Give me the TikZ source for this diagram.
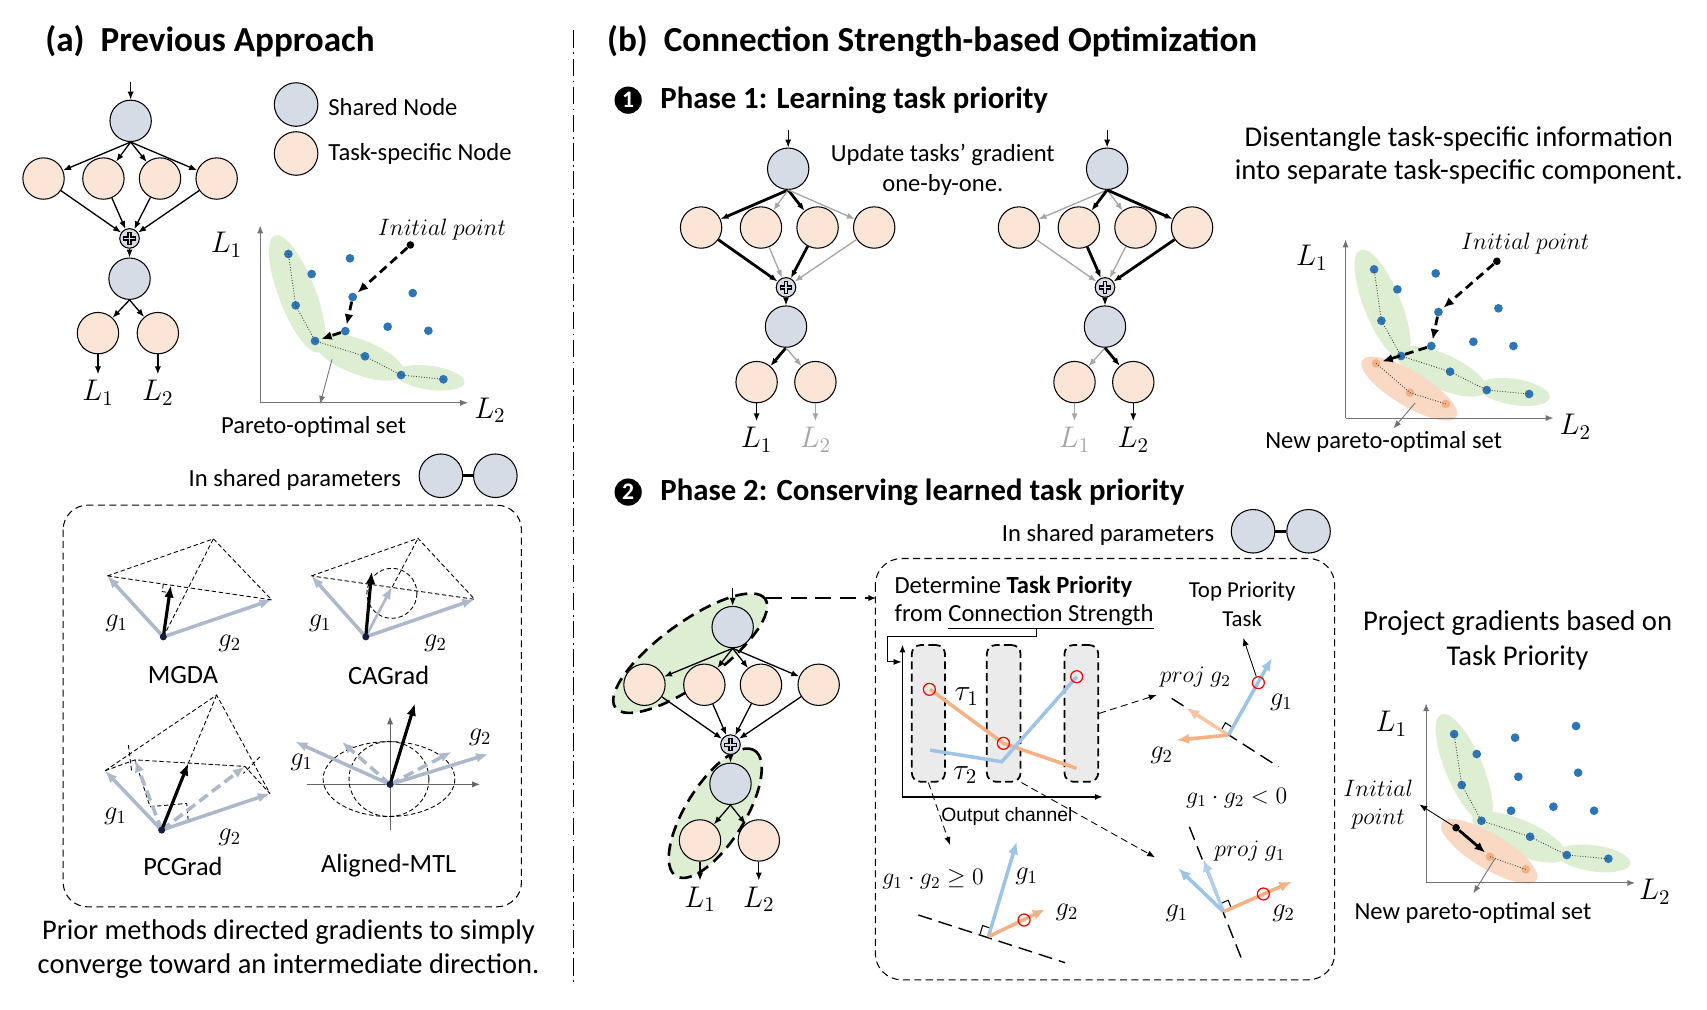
\RequirePackage{fix-cm}
\documentclass[tikz,border=0pt]{standalone}
\usepackage{amsmath}
\usepackage{amssymb}
\usepackage{fontspec}
\setmainfont{Carlito}
\newfontfamily\chanfont{Liberation Sans}
\usepackage{tikz}
\usetikzlibrary{arrows.meta}
\usetikzlibrary{shapes.geometric}
\usepackage{xcolor}

\definecolor{sharedfill}{RGB}{214,220,229}
\definecolor{taskfill}{RGB}{251,229,214}
\definecolor{dotblue}{RGB}{46,117,182}
\definecolor{setgreen}{RGB}{222,238,210}
\definecolor{setorange}{RGB}{249,216,196}
\definecolor{dotorange}{RGB}{244,177,131}
\definecolor{gradgray}{RGB}{173,185,202}
\definecolor{lineblue}{RGB}{157,195,230}
\definecolor{lineorange}{RGB}{244,177,131}
\definecolor{boxgray}{RGB}{235,235,235}
\definecolor{origincol}{RGB}{20,30,60}

\def\pxu{0.021773cm}

\tikzset{
  >={Latex[length=4.5pt,width=3.5pt]},
  shr/.style={circle, draw, line width=0.6pt, fill=sharedfill, minimum size=38*\pxu, inner sep=0pt},
  tsk/.style={circle, draw, line width=0.6pt, fill=taskfill, minimum size=38*\pxu, inner sep=0pt},
  pair/.style={circle, draw, line width=0.6pt, fill=sharedfill, minimum size=40*\pxu, inner sep=0pt},
  plusnode/.style={circle, draw, line width=0.6pt, fill=sharedfill, minimum size=18*\pxu, inner sep=0pt,
    path picture={
      \draw[line width=2.4pt] ([xshift=-3.6pt]path picture bounding box.center) -- ([xshift=3.6pt]path picture bounding box.center);
      \draw[line width=2.4pt] ([yshift=-3.6pt]path picture bounding box.center) -- ([yshift=3.6pt]path picture bounding box.center);
      \draw[line width=1pt, sharedfill] ([xshift=-3.1pt]path picture bounding box.center) -- ([xshift=3.1pt]path picture bounding box.center);
      \draw[line width=1pt, sharedfill] ([yshift=-3.1pt]path picture bounding box.center) -- ([yshift=3.1pt]path picture bounding box.center);
    }},
  lnk/.style={->, line width=0.75pt},
  hot/.style={->, line width=1.6pt},
  cold/.style={->, line width=0.75pt, black!35},
  bdot/.style={circle, fill=dotblue, inner sep=0pt, minimum size=8*\pxu},
  odot/.style={circle, fill=dotorange, inner sep=0pt, minimum size=8*\pxu},
  kdot/.style={circle, fill=black, inner sep=0pt, minimum size=7*\pxu},
  gset/.style={ellipse, fill=setgreen, inner sep=0pt},
  oset/.style={ellipse, fill=setorange, inner sep=0pt},
  front/.style={densely dotted, line width=0.5pt, black!75},
  walk/.style={-{Latex[length=6pt,width=5pt]}, line width=1.6pt, dash pattern=on 5pt off 3pt, shorten >=1pt},
  axis/.style={->, line width=0.6pt, black!55},
  mathl/.style={font=\fontsize{17}{20}\selectfont},
  gl/.style={font=\fontsize{15}{18}\selectfont},
  initl/.style={font=\fontsize{13.5}{16}\selectfont},
  grad/.style={-{Latex[length=7pt,width=5.5pt]}, line width=2pt, gradgray},
  gradd/.style={grad, dash pattern=on 6pt off 3pt},
  res/.style={-{Latex[length=7pt,width=5.5pt]}, line width=1.8pt},
  aux/.style={line width=0.5pt, dash pattern=on 2.5pt off 1.5pt},
  bgrad/.style={-{Latex[length=7pt,width=6pt]}, line width=2pt, lineblue},
  ograd/.style={-{Latex[length=7pt,width=6pt]}, line width=2pt, lineorange},
  ring/.style={circle, draw=red, line width=0.7pt, minimum size=11*\pxu, inner sep=0pt},
  plane/.style={dash pattern=on 8pt off 4pt, line width=0.8pt},
  chbox/.style={draw, fill=boxgray, dash pattern=on 4.5pt off 2.5pt, line width=1pt, rounded corners=5pt, inner sep=0pt},
  head/.style={font=\fontsize{20}{24}\selectfont\bfseries, anchor=west},
  phase/.style={font=\fontsize{17.5}{21}\selectfont\bfseries, anchor=west},
  numc/.style={circle, fill=black, text=white, inner sep=0pt, minimum size=25*\pxu, font=\fontsize{13.5}{13.5}\selectfont\bfseries},
  mname/.style={font=\fontsize{15}{18}\selectfont},
  thinarr/.style={->, line width=0.5pt},
}

\begin{document}
\begin{tikzpicture}[x=\pxu, y=-\pxu, every node/.style={font=\fontsize{14}{16.5}\selectfont}]
\useasboundingbox (0,0) rectangle (1568,927);

% ================= (a) =================
\node[head] (ha) at (36,38) {(a)\ \ Previous Approach};
\draw[dash pattern=on 10pt off 2.5pt on 1pt off 2.5pt, line width=0.6pt] (527,28) -- (527,905);

% network
\coordinate (ain) at (120,75);
\node[shr] (as1) at (120,111) {};
\node[tsk] (at1) at (40,164) {};
\node[tsk] (at2) at (95,164) {};
\node[tsk] (at3) at (147,164) {};
\node[tsk] (at4) at (199,164) {};
\node[plusnode] (ap) at (119,219) {};
\node[shr] (as2) at (119,256) {};
\node[tsk] (ao1) at (90,306) {};
\node[tsk] (ao2) at (145,306) {};
\node[mathl] (aL1) at (90,361) {$L_1$};
\node[mathl] (aL2) at (145,361) {$L_2$};
\draw[lnk] (ain) -- (as1);
\foreach \t in {at1,at2,at3,at4} {
  \draw[lnk] (as1.south) -- (\t);
  \draw[lnk] (\t) -- (ap);
}
\draw[lnk] (ap) -- (as2);
\draw[lnk] (as2.south) -- (ao1);
\draw[lnk] (as2.south) -- (ao2);
\draw[lnk] (ao1) -- (aL1);
\draw[lnk] (ao2) -- (aL2);

% legend
\node[shr, minimum size=40*\pxu] (ks) at (272,96) {};
\node[anchor=west] (kst) at (296,98) {Shared Node};
\node[tsk, minimum size=40*\pxu] (kt) at (272,141) {};
\node[anchor=west] (ktt) at (296,141) {Task-specific Node};

% pareto plot
\node[gset, rotate=-69, minimum width=115*\pxu, minimum height=34*\pxu] (age1) at (273,270) {};
\node[gset, rotate=-21, minimum width=88*\pxu, minimum height=32*\pxu] (age2) at (330,328) {};
\node[gset, rotate=-8, minimum width=64*\pxu, minimum height=22*\pxu] (age3) at (395,347) {};
\coordinate (aor) at (239,370);
\coordinate (aya) at (239,207);
\coordinate (axa) at (430,370);
\draw[axis] (aor) -- (aya);
\draw[axis] (aor) -- (axa);
\node[mathl] (aly) at (208,225) {$L_1$};
\node[mathl] (alx) at (450,377) {$L_2$};
\foreach \p [count=\i] in {(264.9,233.3),(286.3,251.7),(321.5,237.3),(271.6,280.5),(324,272.8),(379.1,269.2),(317.2,304.1),(356.1,300.1),(393.5,303.8),(289.4,313.2),(335.3,327.3),(368.4,344.5),(407.3,348.4)}
  \node[bdot] (ad\i) at \p {};
\draw[front] (ad1.center) -- (ad4.center) -- (ad10.center) -- (ad11.center) -- (ad12.center) -- (ad13.center);
\node[kdot] (ainit) at (377,225) {};
\node[initl] (ainitl) at (406,211) {$Initial\ point$};
\draw[walk] (ainit) -- (ad5);
\draw[walk] (ad5) -- (ad7);
\draw[walk] (ad7) -- (ad10);
\coordinate (apa) at (305,330);
\node (apl) at (288,392) {Pareto-optimal set};
\draw[thinarr, black!55] (apa) -- (294,371);

% shared parameters
\node[anchor=east] (ainsh) at (374,441) {In shared parameters};
\node[pair] (apr1) at (405,437) {};
\node[pair] (apr2) at (455,437) {};
\draw[line width=1.6pt] (apr1) -- (apr2);

% gradient methods
\draw[line width=0.6pt, dash pattern=on 4pt off 2.5pt, rounded corners=14pt] (58,464) rectangle (479,833);

% MGDA
\coordinate (mo) at (150,585);
\coordinate (m1) at (98.6,529);
\coordinate (m2) at (249.6,551);
\coordinate (mt) at (196,495);
\coordinate (mf) at (156.9,537.5);
\draw[aux] (m1) -- (mt) -- (m2) -- cycle;
\draw[aux] (mo) -- (mt);
\draw[aux] (150,536.5) -- (149,543.4) -- (155.9,544.4);
\draw[grad] (mo) -- (m1);
\draw[grad] (mo) -- (m2);
\draw[res] (mo) -- (mf);
\fill[origincol] (mo) circle (2pt);
\node[gl] (mg1) at (107,573) {$g_1$};
\node[gl] (mg2) at (211,591) {$g_2$};
\node[mname] (mlab) at (168,620) {MGDA};

% CAGrad
\coordinate (co) at (336,585);
\coordinate (c1) at (286,529);
\coordinate (c2) at (436,550.5);
\coordinate (ct) at (384,494.5);
\coordinate (cc) at (360,545);
\draw[aux] (c1) -- (ct) -- (c2) -- cycle;
\draw[aux] (co) -- (ct);
\draw[aux] (cc) circle [radius=23];
\draw[grad] (co) -- (c1);
\draw[grad] (co) -- (c2);
\draw[grad, line width=1.5pt] (co) -- (360,539);
\draw[res] (co) -- (341.4,525);
\fill[origincol] (co) circle (2pt);
\node[gl] (cg1) at (294,573) {$g_1$};
\node[gl] (cg2) at (400,591) {$g_2$};
\node[mname] (clab) at (357,620) {CAGrad};

% PCGrad
\coordinate (po) at (148.5,762.5);
\coordinate (p1) at (96.5,708);
\coordinate (p2) at (248,729);
\coordinate (pt) at (199,638.4);
\coordinate (pq1) at (124,698);
\coordinate (pq2) at (225,704);
\coordinate (pr) at (173,701);
\draw[aux] (p1) -- (pt) -- (p2);
\draw[aux] (p1) -- (pq1) -- (pq2) -- (p2);
\draw[aux] (pt) -- (pr);
\draw[aux] (pq1) -- (137.8,741) -- (171.5,738) -- (173,754.8);
\draw[aux] (117.9,684.4) -- (121,708.9);
\draw[aux] (238.8,695.1) -- (223.5,710.4);
\draw[grad] (po) -- (p1);
\draw[grad] (po) -- (p2);
\draw[gradd] (po) -- (pq1);
\draw[gradd] (po) -- (pq2);
\draw[res] (po) -- (pr);
\fill[origincol] (po) circle (2pt);
\node[gl] (pg1) at (106,750) {$g_1$};
\node[gl] (pg2) at (211,769) {$g_2$};
\node[mname] (plab) at (168,796) {PCGrad};

% Aligned-MTL
\coordinate (lo) at (358.3,720.5);
\draw[->, line width=0.6pt, black!60] (281.7,720.5) -- (441,720.5);
\draw[->, line width=0.6pt, black!60] (358.3,762.5) -- (358.3,658);
\draw[aux] (357.3,715.6) ellipse [x radius=60.5, y radius=34.4];
\draw[aux] (357.3,715.6) ellipse [x radius=36.7, y radius=34.4];
\draw[grad] (lo) -- (271,681.3);
\draw[grad] (lo) -- (448.6,692.6);
\draw[gradd] (lo) -- (313.9,681.3);
\draw[gradd] (lo) -- (414.9,690.5);
\draw[res] (lo) -- (381.2,646.1);
\fill[origincol] (lo) circle (2pt);
\node[gl] (lg1) at (277,700) {$g_1$};
\node[gl] (lg2) at (441,677) {$g_2$};
\node[mname] (llab) at (357,795) {Aligned-MTL};

\node[align=center, font=\fontsize{16.2}{19.2}\selectfont] (acap) at (265,872) {Prior methods directed gradients to simply\\converge toward an intermediate direction.};

% ================= (b) =================
\node[head] (hb) at (552,38) {(b)\ \ Connection Strength-based Optimization};
\node[numc] (n1) at (577,92) {1};
\node[phase] (ph1) at (601,92) {Phase 1: Learning task priority};

% phase 1, first update
\coordinate (bin) at (724,119);
\node[shr] (bs1) at (724,155) {};
\node[tsk] (bt1) at (644,209) {};
\node[tsk] (bt2) at (699,209) {};
\node[tsk] (bt3) at (751,209) {};
\node[tsk] (bt4) at (803,209) {};
\node[plusnode] (bp) at (722,264) {};
\node[shr] (bs2) at (722,300) {};
\node[tsk] (bo1) at (695,351) {};
\node[tsk] (bo2) at (749,351) {};
\node[mathl] (bL1) at (695,404) {$L_1$};
\node[mathl, black!35] (bL2) at (749,404) {$L_2$};
\draw[lnk] (bin) -- (bs1);
\draw[hot] (bs1.south) -- (bt1);
\draw[cold] (bs1.south) -- (bt2);
\draw[hot] (bs1.south) -- (bt3);
\draw[cold] (bs1.south) -- (bt4);
\draw[hot] (bt1) -- (bp);
\draw[cold] (bt2) -- (bp);
\draw[hot] (bt3) -- (bp);
\draw[cold] (bt4) -- (bp);
\draw[lnk] (bp) -- (bs2);
\draw[hot] (bs2.south) -- (bo1);
\draw[cold] (bs2.south) -- (bo2);
\draw[lnk] (bo1) -- (bL1);
\draw[cold] (bo2) -- (bL2);

\node[align=center, font=\fontsize{14}{17.4}\selectfont] (upd) at (866,156) {Update tasks’ gradient\\one-by-one.};

% phase 1, second update
\coordinate (cin) at (1017,119);
\node[shr] (cs1) at (1017,155) {};
\node[tsk] (ct1) at (936,209) {};
\node[tsk] (ct2) at (991,209) {};
\node[tsk] (ct3) at (1043,209) {};
\node[tsk] (ct4) at (1095,209) {};
\node[plusnode] (cp) at (1015,264) {};
\node[shr] (cs2) at (1015,300) {};
\node[tsk] (co1) at (987,351) {};
\node[tsk] (co2) at (1041,351) {};
\node[mathl, black!35] (cL1) at (987,404) {$L_1$};
\node[mathl] (cL2) at (1041,404) {$L_2$};
\draw[lnk] (cin) -- (cs1);
\draw[cold] (cs1.south) -- (ct1);
\draw[hot] (cs1.south) -- (ct2);
\draw[cold] (cs1.south) -- (ct3);
\draw[hot] (cs1.south) -- (ct4);
\draw[cold] (ct1) -- (cp);
\draw[hot] (ct2) -- (cp);
\draw[cold] (ct3) -- (cp);
\draw[hot] (ct4) -- (cp);
\draw[lnk] (cp) -- (cs2);
\draw[cold] (cs2.south) -- (co1);
\draw[hot] (cs2.south) -- (co2);
\draw[cold] (co1) -- (cL1);
\draw[lnk] (co2) -- (cL2);

% phase 1 plot
\node[align=center, font=\fontsize{16.3}{18.6}\selectfont] (dis) at (1340,143) {Disentangle task-specific information\\into separate task-specific component.};
\node[gset, rotate=-68, minimum width=109*\pxu, minimum height=34*\pxu] (dge1) at (1270,280) {};
\node[gset, rotate=-24, minimum width=90*\pxu, minimum height=32*\pxu] (dge2) at (1324,341) {};
\node[gset, rotate=-9, minimum width=66*\pxu, minimum height=24*\pxu] (dge3) at (1391,360) {};
\node[oset, rotate=-31, minimum width=101*\pxu, minimum height=32*\pxu] (doe) at (1294.5,357) {};
\coordinate (dor) at (1236,384);
\coordinate (dya) at (1236,220);
\coordinate (dxa) at (1427,384);
\draw[axis] (dor) -- (dya);
\draw[axis] (dor) -- (dxa);
\node[mathl] (dly) at (1205,237) {$L_1$};
\node[mathl] (dlx) at (1447,392) {$L_2$};
\foreach \p [count=\i] in {(1262.2,247.4),(1283.6,265.8),(1318.8,251.1),(1268.9,294.6),(1321.3,286.6),(1376.4,283.2),(1314.8,317.8),(1353.4,313.9),(1390.2,317.8),(1287,327),(1332,341.4),(1365.7,358.3),(1404.6,361.9)}
  \node[bdot] (dd\i) at \p {};
\foreach \p [count=\i] in {(1264,333.8),(1295.2,360.7),(1328,371.1)}
  \node[odot] (do\i) at \p {};
\draw[front] (dd1.center) -- (dd4.center) -- (dd10.center) -- (dd11.center) -- (dd12.center) -- (dd13.center);
\draw[front] (do1.center) -- (do2.center) -- (do3.center);
\node[kdot] (dinit) at (1375,240) {};
\node[initl] (dinitl) at (1401,224) {$Initial\ point$};
\draw[walk] (dinit) -- (dd5);
\draw[walk] (dd5) -- (dd7);
\draw[walk] (dd7) -- (do1);
\coordinate (dpa) at (1300,370);
\node (dpl) at (1271,406) {New pareto-optimal set};
\draw[thinarr, black!55] (dpa) -- (1280,393.5);

% phase 2
\node[numc] (n2) at (577,452) {2};
\node[phase] (ph2) at (601,452) {Phase 2: Conserving learned task priority};

\node[gset, draw, rotate=36, minimum width=170*\pxu, minimum height=56*\pxu, dash pattern=on 7pt off 4pt, line width=1.5pt] (pe1) at (634,600) {};
\node[gset, draw, rotate=58, minimum width=136*\pxu, minimum height=54*\pxu, dash pattern=on 7pt off 4pt, line width=1.5pt] (pe2) at (657,747) {};
\coordinate (qin) at (673,540);
\node[shr] (qs1) at (673,576) {};
\node[tsk] (qt1) at (592,629) {};
\node[tsk] (qt2) at (647,629) {};
\node[tsk] (qt3) at (699,629) {};
\node[tsk] (qt4) at (752,629) {};
\node[plusnode] (qp) at (671,684) {};
\node[shr] (qs2) at (671,720) {};
\node[tsk] (qo1) at (643,772) {};
\node[tsk] (qo2) at (697,772) {};
\node[mathl] (qL1) at (643,826) {$L_1$};
\node[mathl] (qL2) at (697,826) {$L_2$};
\draw[lnk] (qin) -- (qs1);
\foreach \t in {qt1,qt2,qt3,qt4} {
  \draw[lnk] (qs1.south) -- (\t);
  \draw[lnk] (\t) -- (qp);
}
\draw[lnk] (qp) -- (qs2);
\draw[lnk] (qs2.south) -- (qo1);
\draw[lnk] (qs2.south) -- (qo2);
\draw[lnk] (qo1) -- (qL1);
\draw[lnk] (qo2) -- (qL2);

\node[anchor=east] (binsh) at (1121,491) {In shared parameters};
\node[pair] (bpr1) at (1151,488) {};
\node[pair] (bpr2) at (1202,488) {};
\draw[line width=1.6pt] (bpr1) -- (bpr2);

% phase 2 box
\draw[line width=0.6pt, dash pattern=on 4pt off 2.5pt, rounded corners=15pt] (804,513) rectangle (1226,900);
\coordinate (pbw) at (805,553);
\draw[->, dash pattern=on 9pt off 5pt, line width=1.2pt] (pe1.east) -- (pe1.east -| pbw);

\node[anchor=west] (dt1) at (816,539) {Determine \textbf{Task Priority}};
\node[anchor=west] (dt2) at (816,567) {from \underline{Connection Strength}};
\draw[thinarr] (952,577) -- (952,585) -- (815,585) -- (815,608) -- (828,608);

% connection strength chart
\node[chbox, minimum width=30.5*\pxu, minimum height=125.5*\pxu] (cb1) at (852.8,655.3) {};
\node[chbox, minimum width=31*\pxu, minimum height=125.5*\pxu] (cb2) at (922,655.3) {};
\node[chbox, minimum width=31*\pxu, minimum height=125.5*\pxu] (cb3) at (993.3,655.3) {};
\draw[->, line width=0.9pt] (829,732) -- (829,592);
\draw[->, line width=0.9pt] (829,732) -- (1013,732);
\draw[lineorange, line width=2pt] (854.3,633.2) -- (921.7,682.8) -- (989,705.8);
\draw[lineblue, line width=2pt] (854.3,689) -- (920.2,699.7) -- (989,621.6);
\node[ring] (r1) at (853.7,633.2) {};
\node[ring] (r2) at (921.7,682.8) {};
\node[ring] (r3) at (989,621.6) {};
\node[mathl] (tau1) at (888,640) {$\tau_1$};
\node[mathl] (tau2) at (886.5,712) {$\tau_2$};
\node[font=\chanfont\fontsize{11}{13}\selectfont] (outch) at (925,750) {Output channel};

\coordinate (ea) at (1062.5,638.4);
\coordinate (eb) at (872.7,776.2);
\coordinate (ec) at (1061,787.5);
\draw[->, line width=0.5pt, dash pattern=on 4pt off 2.5pt] (cb3.east) -- (ea);
\draw[->, line width=0.5pt, dash pattern=on 4pt off 2.5pt] (cb1.south) -- (eb);
\draw[->, line width=0.5pt, dash pattern=on 4pt off 2.5pt] (cb2.south east) -- (ec);

% top priority projection
\node[align=center, font=\fontsize{13}{16}\selectfont] (tpt) at (1141,555) {Top Priority\\Task};
\coordinate (to) at (1128.4,675.2);
\draw[plane] (1076.3,641.5) -- (1174.3,704.3);
\draw[line width=0.6pt] (1121.7,670.9) -- (1125.6,663.9) -- (1132.3,668.2);
\draw[ograd, lineorange!75] (to) -- (1090.1,650.7);
\draw[ograd] (to) -- (1080.9,679.8);
\draw[bgrad] (to) -- (1168.2,604.7);
\node[ring] (tring) at (1155.9,627.1) {};
\coordinate (tpa) at (1142,586);
\draw[thinarr] (tring) -- (tpa);
\node[initl] (tpg2) at (1098,622) {$proj\ g_2$};
\node[gl] (tg1) at (1177,645) {$g_1$};
\node[gl] (tg2) at (1067,694) {$g_2$};
\node[initl] (tneg) at (1136,733) {$g_1\cdot g_2<0$};

% non-conflicting case
\node[initl] (tpos) at (857,808) {$g_1\cdot g_2\geq 0$};
\coordinate (uo) at (907.9,860.4);
\draw[plane] (843.6,840.5) -- (978.3,884.3);
\draw[line width=0.6pt] (900.3,857.9) -- (902.6,850.2) -- (910.2,852.7);
\draw[bgrad] (uo) -- (933.9,773.2);
\draw[ograd] (uo) -- (960,835.3);
\node[ring] (uring) at (940.7,845.1) {};
\node[gl] (ug1) at (943,805) {$g_1$};
\node[gl] (ug2) at (980,838) {$g_2$};

% conflicting case
\coordinate (vo) at (1123.8,837.5);
\draw[plane] (1092.5,759.4) -- (1141.5,883.4);
\draw[line width=0.6pt] (1120.9,830.1) -- (1128.2,826.9) -- (1131.1,834.3);
\draw[bgrad, lineblue!80] (vo) -- (1105.4,789.4);
\draw[bgrad] (vo) -- (1082.4,797.7);
\draw[ograd] (vo) -- (1186.5,809.9);
\node[ring] (vring) at (1160.5,821.2) {};
\node[initl] (vpg1) at (1148,782) {$proj\ g_1$};
\node[gl] (vg1) at (1081,839) {$g_1$};
\node[gl] (vg2) at (1179,839) {$g_2$};

% phase 2 plot
\node[align=center, font=\fontsize{16.3}{19.8}\selectfont] (prj) at (1394,588) {Project gradients based on\\Task Priority};
\node[gset, rotate=-67, minimum width=108*\pxu, minimum height=34*\pxu] (fge1) at (1345,706) {};
\node[gset, rotate=-23, minimum width=93*\pxu, minimum height=32*\pxu] (fge2) at (1395.5,769) {};
\node[gset, rotate=-8, minimum width=68*\pxu, minimum height=24*\pxu] (fge3) at (1464,788.5) {};
\node[oset, rotate=-31, minimum width=102*\pxu, minimum height=32*\pxu] (foe) at (1368,782) {};
\coordinate (for) at (1310,811);
\coordinate (fya) at (1310,646);
\coordinate (fxa) at (1502,811);
\draw[axis] (for) -- (fya);
\draw[axis] (for) -- (fxa);
\node[mathl] (fly) at (1278,665) {$L_1$};
\node[mathl] (flx) at (1520,819) {$L_2$};
\foreach \p [count=\i] in {(1335.7,674.3),(1356.5,692.6),(1391.7,677.6),(1447.7,666.9),(1342.7,721.1),(1394.7,713.5),(1449.6,709.8),(1388,744.7),(1426.9,741),(1464.3,744.7),(1360.8,753.9),(1405.5,768.6),(1439.2,785.4),(1477.4,788.8)}
  \node[bdot] (fd\i) at \p {};
\foreach \p [count=\i] in {(1368.7,787),(1401.5,798.6)}
  \node[odot] (fo\i) at \p {};
\draw[front] (fd1.center) -- (fd5.center) -- (fd11.center) -- (fd12.center) -- (fd13.center) -- (fd14.center);
\draw[front] (fo1.center) -- (fo2.center);
\node[kdot] (finit) at (1337.5,760.3) {};
\node[initl, align=center] (finitl) at (1266,739) {$Initial$\\$point$};
\draw[thinarr] (finit) -- (finitl.east);
\draw[-{Latex[length=6pt,width=5pt]}, line width=1.6pt, shorten >=1pt] (finit) -- (fo1);
\coordinate (fpa) at (1373,789);
\node (fpl) at (1353,839) {New pareto-optimal set};
\draw[thinarr, black!55] (fpa) -- (1353.4,820.6);

\end{tikzpicture}
\end{document}
